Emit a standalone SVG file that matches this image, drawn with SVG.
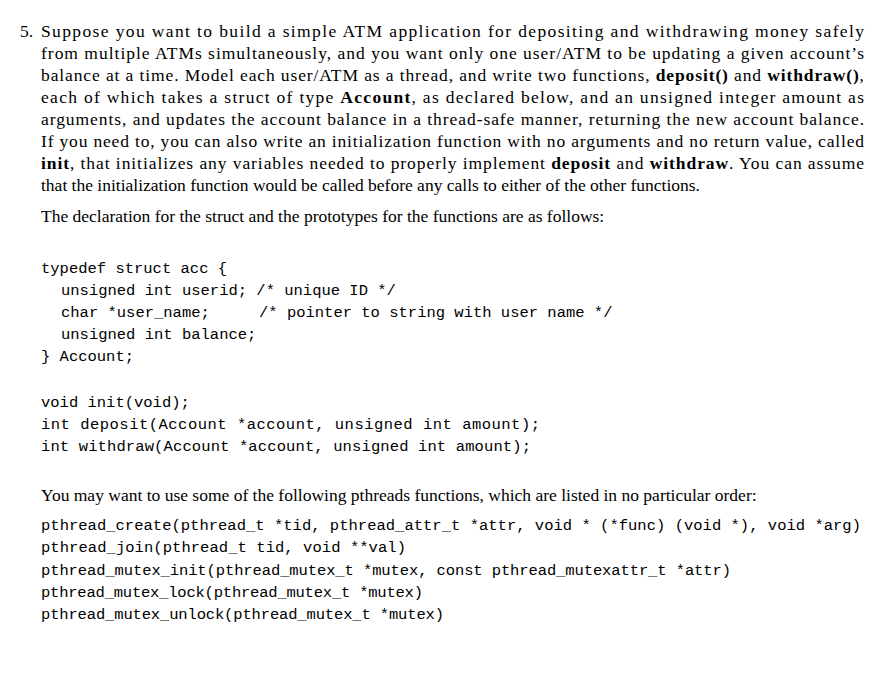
<svg xmlns="http://www.w3.org/2000/svg" width="890" height="682" viewBox="0 0 890 682">
<style>
.s{font-family:"Liberation Serif",serif;font-size:17.5px;fill:#000}
.m{font-family:"Liberation Mono",monospace;font-size:15.5px;fill:#000}
b,.b{font-weight:bold}
</style>
<rect width="890" height="682" fill="#fff"/>
<g id="question">
<text class="s" x="20" y="37">5.</text>
<text class="s" x="41" y="37" textLength="823" lengthAdjust="spacing">Suppose you want to build a simple ATM application for depositing and withdrawing money safely</text>
<text class="s" x="41" y="59" textLength="823" lengthAdjust="spacing">from multiple ATMs simultaneously, and you want only one user/ATM to be updating a given account’s</text>
<text class="s" x="41" y="81" textLength="823" lengthAdjust="spacing">balance at a time. Model each user/ATM as a thread, and write two functions, <tspan class="b">deposit()</tspan> and <tspan class="b">withdraw()</tspan>,</text>
<text class="s" x="41" y="103" textLength="823" lengthAdjust="spacing">each of which takes a struct of type <tspan class="b">Account</tspan>, as declared below, and an unsigned integer amount as</text>
<text class="s" x="41" y="125" textLength="823" lengthAdjust="spacing">arguments, and updates the account balance in a thread-safe manner, returning the new account balance.</text>
<text class="s" x="41" y="147" textLength="823" lengthAdjust="spacing">If you need to, you can also write an initialization function with no arguments and no return value, called</text>
<text class="s" x="41" y="169" textLength="823" lengthAdjust="spacing"><tspan class="b">init</tspan>, that initializes any variables needed to properly implement <tspan class="b">deposit</tspan> and <tspan class="b">withdraw</tspan>. You can assume</text>
<text class="s" x="41" y="191">that the initialization function would be called before any calls to either of the other functions.</text>
<text class="s" x="41" y="222">The declaration for the struct and the prototypes for the functions are as follows:</text>
</g>
<g id="code">
<text class="m" x="41" y="273">typedef struct acc {</text>
<text class="m" x="61" y="295">unsigned int userid; /* unique ID */</text>
<text class="m" x="61" y="317">char *user_name;</text>
<text class="m" x="259" y="317">/* pointer to string with user name */</text>
<text class="m" x="61" y="339">unsigned int balance;</text>
<text class="m" x="41" y="361">} Account;</text>
<text class="m" x="41" y="407">void init(void);</text>
<text class="m" x="41" y="429" textLength="499">int deposit(Account *account, unsigned int amount);</text>
<text class="m" x="41" y="451" textLength="490">int withdraw(Account *account, unsigned int amount);</text>
</g>
<g id="pthreads">
<text class="s" x="41" y="501">You may want to use some of the following pthreads functions, which are listed in no particular order:</text>
<text class="m" x="41" y="530" textLength="820">pthread_create(pthread_t *tid, pthread_attr_t *attr, void * (*func) (void *), void *arg)</text>
<text class="m" x="41" y="552" textLength="365">pthread_join(pthread_t tid, void **val)</text>
<text class="m" x="41" y="575" textLength="690">pthread_mutex_init(pthread_mutex_t *mutex, const pthread_mutexattr_t *attr)</text>
<text class="m" x="41" y="597" textLength="382">pthread_mutex_lock(pthread_mutex_t *mutex)</text>
<text class="m" x="41" y="619" textLength="403">pthread_mutex_unlock(pthread_mutex_t *mutex)</text>
</g>
<g id="connectors"/>
</svg>
